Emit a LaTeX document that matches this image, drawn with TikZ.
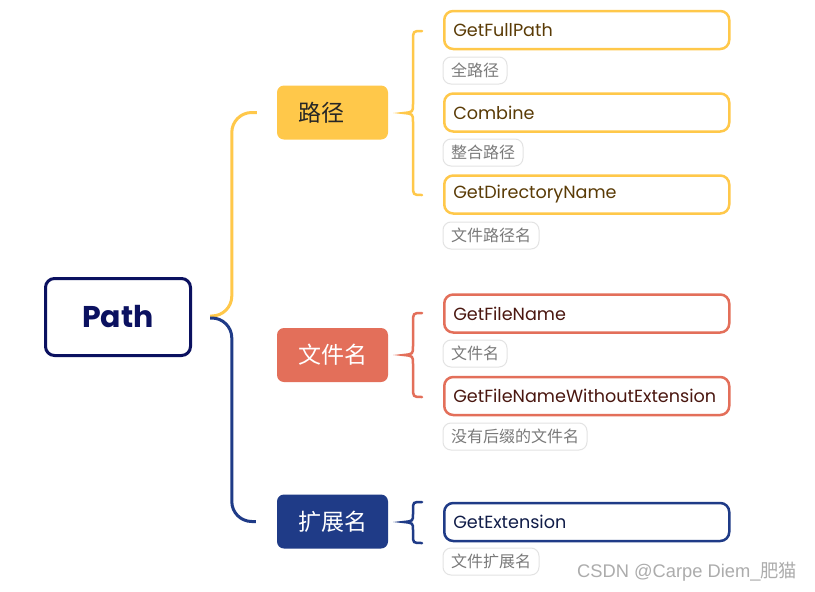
\documentclass[tikz,border=0pt]{standalone}
\usepackage{fontspec}
\setmainfont{Poppins}
\newfontfamily\cjk{Noto Sans CJK SC}
\newfontfamily\wmfont{Liberation Sans}
\usetikzlibrary{calc}
\definecolor{cyel}{HTML}{FFC84A}
\definecolor{cred}{HTML}{E36F5A}
\definecolor{cnav}{HTML}{1F3B87}
\definecolor{cpath}{HTML}{0B1160}
\definecolor{tyel}{HTML}{5A3B06}
\definecolor{tred}{HTML}{4A1710}
\definecolor{tnav}{HTML}{101C48}
\definecolor{lblborder}{HTML}{E3E3E3}
\definecolor{lbltext}{HTML}{7A7A7A}
\begin{document}
\begin{tikzpicture}[x=1pt,y=-1pt,
 topic/.style={rounded corners=7, minimum height=54, text width=69, inner xsep=21, inner ysep=0, align=left, font=\cjk\fontsize{23}{27}\selectfont},
 sub/.style={draw, line width=2.5, rounded corners=9, anchor=west, minimum height=38, text width=267, inner xsep=9, inner ysep=0, align=left, font=\fontsize{17.6}{21}\selectfont, fill=white},
 lbl/.style={draw=lblborder, line width=1, rounded corners=8, anchor=west, minimum height=27, inner xsep=8, inner ysep=0, text=lbltext, font=\cjk\fontsize{16}{19}\selectfont},
 conn/.style={line width=3, rounded corners=20},
 brace/.style={line width=2.5, line cap=round}
]
\useasboundingbox[fill=white] (0,0) rectangle (815,592);

\node[draw=cpath, line width=3, rounded corners=9, minimum width=145, minimum height=77, text=cpath, font=\bfseries\fontsize{30}{36}\selectfont] (p) at (118,317) {Path};

\node[topic, fill=cyel, text=black!85] (t1) at (332.5,112.5) {路径};
\node[topic, fill=cred, text=white] (t2) at (332.5,355) {文件名};
\node[topic, fill=cnav, text=white] (t3) at (332.5,521.5) {扩展名};

% connectors
\coordinate (ps1) at ($(p.east)+(18,-1)$);
\coordinate (ps3) at ($(p.east)+(18,1)$);
\draw[conn, cyel] (ps1) -| ($(t1.west)+(-45,0)$) -- ($(t1.west)+(-20,0)$);
\draw[conn, cnav] (ps3) -| ($(t3.west)+(-45,0)$) -- ($(t3.west)+(-21,0)$);

% braces
\draw[brace, cyel] (422,31) .. controls (413,31) .. (413,41) -- (413,104) .. controls (413,112) .. (404,113) .. controls (413,114) .. (413,122) -- (413,185) .. controls (413,195) .. (422,195);
\draw[brace, cred] (422,313) .. controls (413,313) .. (413,323) -- (413,346) .. controls (413,354) .. (404,355) .. controls (413,356) .. (413,364) -- (413,387) .. controls (413,397) .. (422,397);
\draw[brace, cnav] (422,502) .. controls (413,502) .. (413,510) -- (413,514) .. controls (413,521) .. (404,522) .. controls (413,523) .. (413,530) -- (413,535) .. controls (413,543) .. (422,543);

% subtopics
\node[sub, draw=cyel, text=tyel] (s1) at (443,30) {GetFullPath};
\node[lbl] (l1) at (442.5,70.5) {全路径};
\node[sub, draw=cyel, text=tyel] (s2) at (443,112.5) {Combine};
\node[lbl] (l2) at (442.5,152.5) {整合路径};
\node[sub, draw=cyel, text=tyel] (s3) at (443,194.5) {GetDirectoryName};
\node[lbl] (l3) at (442.5,235.5) {文件路径名};

\node[sub, draw=cred, text=tred] (s4) at (443,313.5) {GetFileName};
\node[lbl] (l4) at (442.5,353.5) {文件名};
\node[sub, draw=cred, text=tred] (s5) at (443,396) {GetFileNameWithoutExtension};
\node[lbl] (l5) at (442.5,436.5) {没有后缀的文件名};

\node[sub, draw=cnav, text=tnav] (s6) at (443,522) {GetExtension};
\node[lbl] (l6) at (442.5,561.5) {文件扩展名};

\node[anchor=west, text=gray!65, font=\wmfont\fontsize{18.3}{22}\selectfont, inner sep=0] (wm) at (577,572) {CSDN @Carpe Diem\_{\cjk 肥猫}};
\end{tikzpicture}
\end{document}
